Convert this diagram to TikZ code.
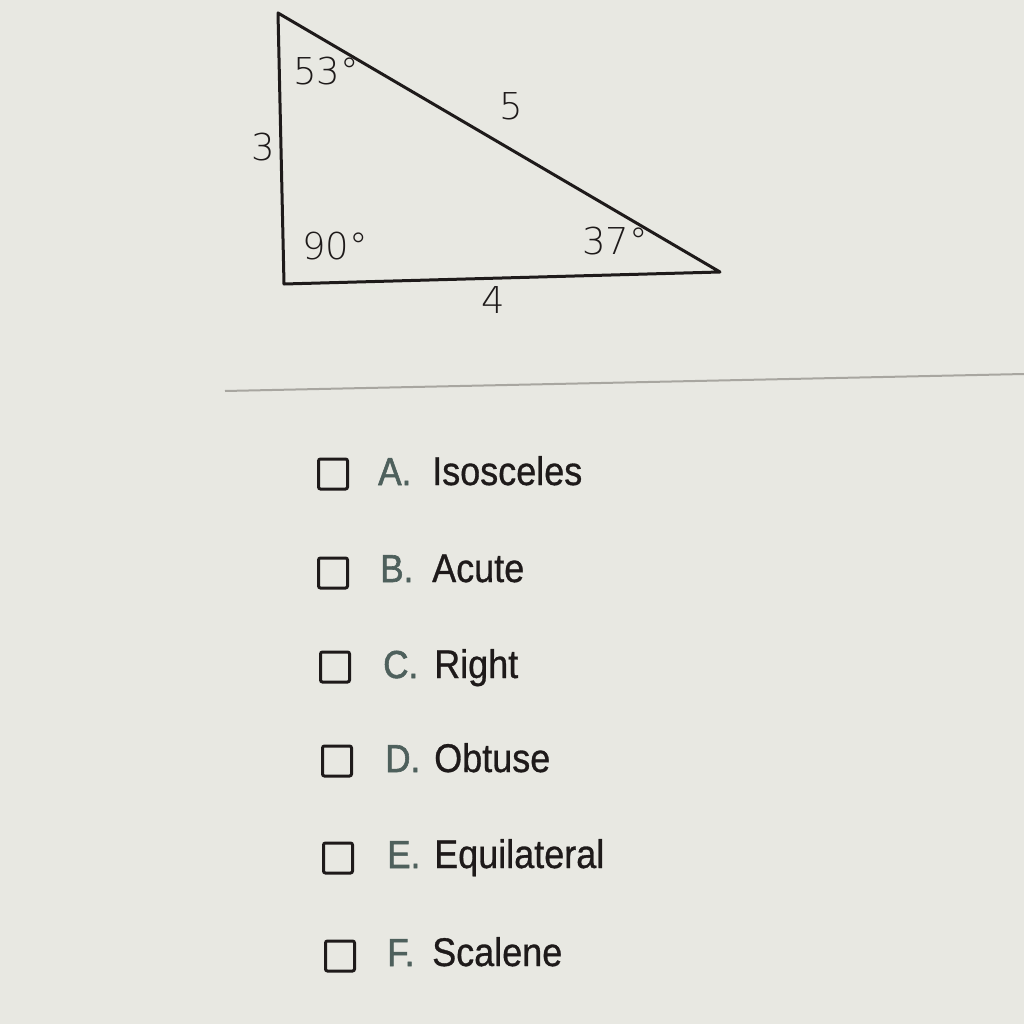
\documentclass[tikz,border=0pt]{standalone}
\usepackage{fontspec}
\setmainfont{Liberation Sans}
\newfontfamily\thinfont{DejaVu Sans ExtraLight}
\newfontfamily\optfont[FakeBold=0.8]{Liberation Sans}
\newfontfamily\letfont[FakeBold=1.6]{Liberation Sans}
\newcommand{\narrow}[1]{\scalebox{0.9}[1]{#1}}
\definecolor{bg}{HTML}{E8E8E2}
\definecolor{ink}{HTML}{1E1A1A}
\definecolor{letter}{HTML}{4E605C}
\definecolor{rule}{HTML}{A8A6A0}
\begin{document}
\begin{tikzpicture}[x=1pt,y=-1pt,
  tri/.style={draw=ink,line width=3pt,line join=round},
  trilabel/.style={font=\thinfont\fontsize{37}{37}\selectfont,text=ink,inner sep=0pt},
  cbox/.style={draw=ink,line width=3pt,rounded corners=2pt,minimum width=29pt,minimum height=30pt,inner sep=0pt},
  optletter/.style={font=\letfont\fontsize{39}{39}\selectfont,text=letter,inner sep=0pt,anchor=base west},
  opttext/.style={font=\optfont\fontsize{40}{40}\selectfont,text=ink,inner sep=0pt,anchor=base west}]
\fill[bg] (0,0) rectangle (1024,1024);
\useasboundingbox (0,0) rectangle (1024,1024);
% triangle
\coordinate (T) at (278,13);
\coordinate (L) at (284,284);
\coordinate (R) at (720,272);
\draw[tri] (T) -- (L) -- (R) -- cycle;
\node[trilabel] (a53) at (326,71) {53°};
\node[trilabel] (s5) at (511,106) {5};
\node[trilabel] (s3) at (263,147) {3};
\node[trilabel] (a90) at (335,246) {90°};
\node[trilabel] (a37) at (615,241) {37°};
\node[trilabel] (s4) at (493,300) {4};
% separator
\coordinate (h1) at (225,391);
\coordinate (h2) at (1024,374);
\draw[rule,line width=2pt] (h1) -- (h2);
% options
\node[cbox] (bA) at (333,474) {};
\node[cbox] (bB) at (333,573) {};
\node[cbox] (bC) at (335,667) {};
\node[cbox] (bD) at (337,761) {};
\node[cbox] (bE) at (338,858) {};
\node[cbox] (bF) at (340,956) {};
\node[optletter] (lA) at (378,485) {\narrow{A.}};
\node[optletter] (lB) at (380,582) {\narrow{B.}};
\node[optletter] (lC) at (383,678) {\narrow{C.}};
\node[optletter] (lD) at (385,772) {\narrow{D.}};
\node[optletter] (lE) at (387,868) {\narrow{E.}};
\node[optletter] (lF) at (387,966) {\narrow{F.}};
\node[opttext] (tA) at (432,485) {\narrow{Isosceles}};
\node[opttext] (tB) at (432,582) {\narrow{Acute}};
\node[opttext] (tC) at (434,678) {\narrow{Right}};
\node[opttext] (tD) at (434,772) {\narrow{Obtuse}};
\node[opttext] (tE) at (434,868) {\narrow{Equilateral}};
\node[opttext] (tF) at (432,966) {\narrow{Scalene}};
\end{tikzpicture}
\end{document}
